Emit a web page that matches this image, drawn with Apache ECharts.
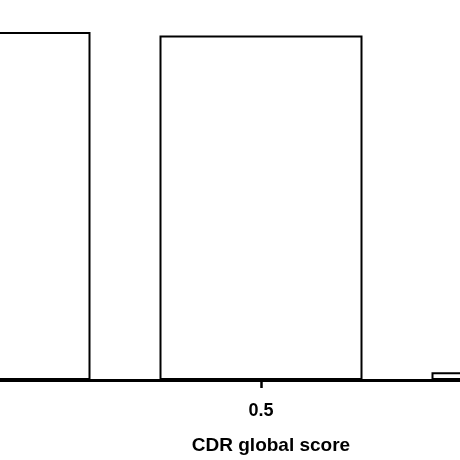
<!DOCTYPE html>
<html>
<head>
<meta charset="utf-8">
<script src="https://cdn.jsdelivr.net/npm/echarts@6/dist/echarts.min.js"></script>
<style>html,body{margin:0;padding:0;background:#fff;overflow:hidden;width:460px;height:460px;}#c{position:absolute;left:-147px;top:0;width:816px;height:460px;}</style>
</head>
<body>
<div id="c"></div>
<script>
var categories = ['0', '0.5', '1'];
var percentValues = [49.7, 49.2, 1.1];
var axisTitle = 'CDR global score';

var chart = echarts.init(document.getElementById('c'), null, {renderer: 'canvas'});
chart.setOption({
  animation: false,
  backgroundColor: '#fff',
  grid: {left: 0, right: 0, top: 30, height: 355, containLabel: false},
  xAxis: {
    type: 'category',
    data: categories,
    axisLine: {show: true, lineStyle: {color: '#000', width: 3}},
    axisTick: {show: true, interval: 0, alignWithLabel: true, inside: false, length: 8, lineStyle: {color: '#000', width: 2.5}},
    axisLabel: {color: '#000', fontFamily: 'Liberation Sans', fontWeight: 'bold', fontSize: 18, margin: 22},
    name: axisTitle,
    nameLocation: 'middle',
    nameGap: 56,
    nameTextStyle: {color: '#000', fontFamily: 'Liberation Sans', fontWeight: 'bold', fontSize: 19, padding: [0, 0, 0, 20]}
  },
  yAxis: {
    type: 'value', min: 0, max: 50, show: false
  },
  series: [{
    type: 'bar',
    data: percentValues,
    barWidth: 203,
    itemStyle: {color: '#fff', borderColor: '#000', borderWidth: 2}
  }]
});
</script>
</body>
</html>
